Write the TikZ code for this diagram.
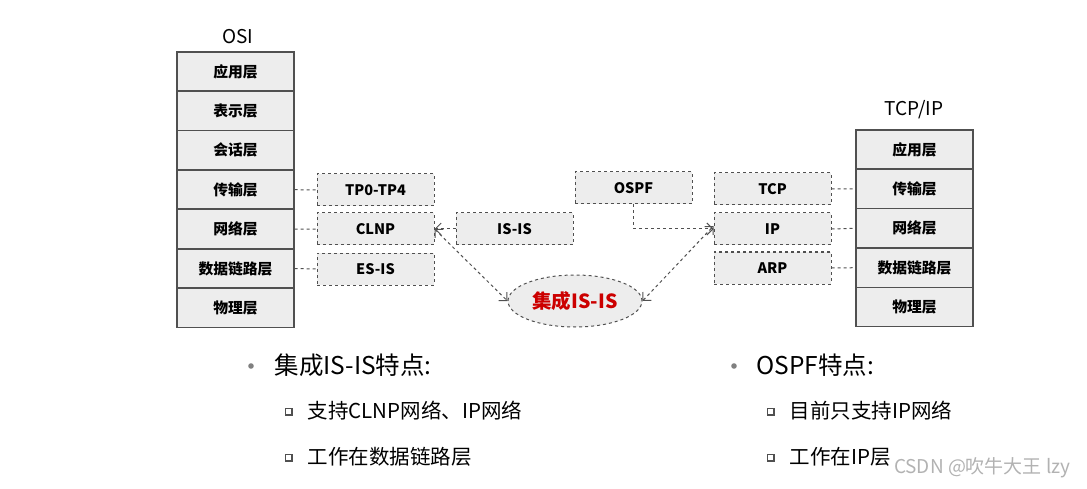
\documentclass[tikz,border=0pt]{standalone}
\usepackage{fontspec}
\setmainfont{Noto Sans CJK SC}
\usetikzlibrary{shapes.geometric,arrows.meta}
\definecolor{cellfill}{HTML}{EDEDED}
\definecolor{edge}{HTML}{505050}
\begin{document}
\begin{tikzpicture}[x=1pt,y=-1pt,
 layer/.style={draw=edge,fill=cellfill,line width=1.4pt,minimum width=117pt,minimum height=39pt,font=\fontsize{14.8}{16}\selectfont\bfseries,inner sep=0},
 proto/.style={draw=edge,fill=cellfill,dashed,line width=1pt,minimum width=117pt,minimum height=32pt,font=\fontsize{14.5}{16}\selectfont\bfseries,inner sep=0},
 link/.style={draw=edge,dashed,line width=1pt},
 arr/.style={link,-{Straight Barb[length=6pt]}},
 darr/.style={link,{Straight Barb[length=6pt]}-{Straight Barb[length=6pt]}},
 big/.style={font=\fontsize{24.5}{28}\selectfont,anchor=west},
 small/.style={font=\fontsize{20.5}{24}\selectfont,anchor=west}]
\useasboundingbox (0,0) rectangle (1087,489);
\node[font=\fontsize{19}{22}\selectfont] (osit) at (238,37) {OSI};
\foreach \t [count=\i] in {应用层,表示层,会话层,传输层,网络层,数据链路层,物理层}
  \node[layer] (o\i) at (235.5,{52+19.5+(\i-1)*39.4}) {\t};
\node[font=\fontsize{19}{22}\selectfont] (tcpt) at (914,110) {TCP/IP};
\foreach \t [count=\i] in {应用层,传输层,网络层,数据链路层,物理层}
  \node[layer] (t\i) at (914.5,{130+19.5+(\i-1)*39.4}) {\t};
\node[proto] (tp) at (375.5,190) {TP0-TP4};
\node[proto] (clnp) at (375.5,229) {CLNP};
\node[proto] (esis) at (375.5,269) {ES-IS};
\node[proto] (isis) at (514.5,229) {IS-IS};
\node[proto] (ospf) at (633.5,188) {OSPF};
\node[proto] (tcp) at (772.5,189) {TCP};
\node[proto] (ip) at (772.5,229) {IP};
\node[proto] (arp) at (772.5,268) {ARP};
\node[ellipse,draw=edge,fill=cellfill,dashed,line width=1pt,minimum width=134pt,minimum height=52pt,inner sep=0,text=red!80!black,font=\fontsize{19.5}{22}\selectfont\bfseries] (ji) at (575,301) {集成IS-IS};
\draw[link] (o4.east) -- (tp.west);
\draw[link] (o5.east) -- (clnp.west);
\draw[link] (o6.east) -- (esis.west);
\draw[link] (tcp.east) -- (t2.west);
\draw[link] (ip.east) -- (t3.west);
\draw[link] (arp.east) -- (t4.west);
\draw[arr] (isis.west) -- (clnp.east);
\draw[arr] (ospf.south) |- (ip.west);
\draw[darr] (clnp.east) -- (ji.west);
\draw[darr] (ji.east) -- ([yshift=3pt]ip.west);
\fill[gray] (251,366) circle (2.8pt);
\node[big] (l1) at (271,365) {集成IS-IS特点:};
\draw[edge,line width=1.2pt] (285.5,408.5) rectangle (292,415);
\node[small] (l2) at (304,411) {支持CLNP网络、IP网络};
\draw[edge,line width=1.2pt] (285.5,454.5) rectangle (292,461);
\node[small] (l3) at (304,457) {工作在数据链路层};
\fill[gray] (734,366) circle (2.8pt);
\node[big] (r1) at (753,365) {OSPF特点:};
\draw[edge,line width=1.2pt] (767.5,408.5) rectangle (774,415);
\node[small] (r2) at (786,411) {目前只支持IP网络};
\draw[edge,line width=1.2pt] (767.5,454.5) rectangle (774,461);
\node[small] (r3) at (786,457) {工作在IP层};
\node[font=\fontsize{19}{22}\selectfont,text=gray!60,anchor=east] (wm) at (1074,468) {CSDN @吹牛大王 lzy};
\end{tikzpicture}
\end{document}
